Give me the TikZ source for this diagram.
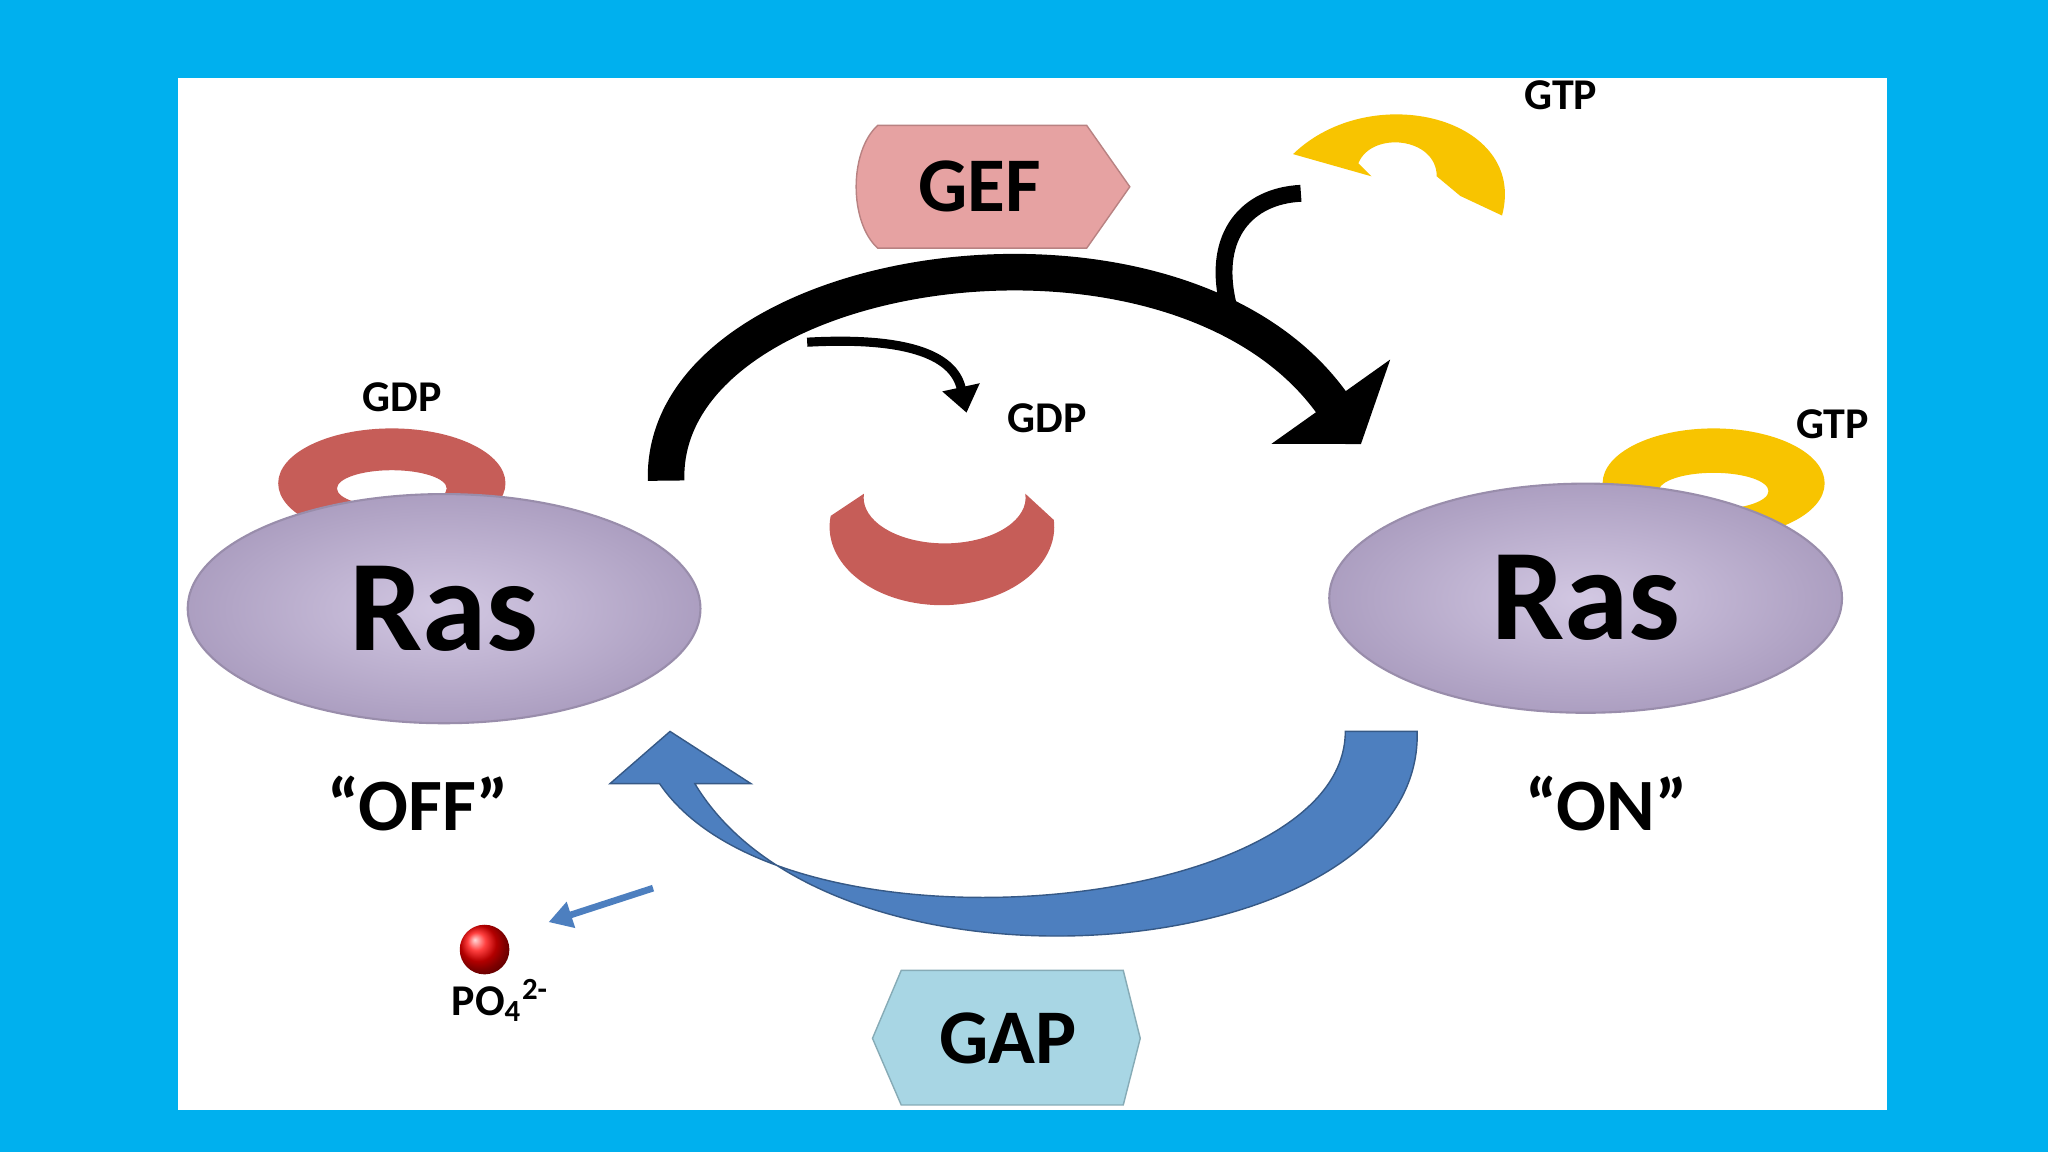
\documentclass[tikz,border=0pt]{standalone}
\usepackage{fontspec}
\setmainfont{Carlito}
\usetikzlibrary{arrows.meta,shapes.geometric}
\definecolor{sky}{HTML}{00B0EE}
\definecolor{rasp}{HTML}{BFB0D6}
\definecolor{gdpr}{HTML}{C65D58}
\definecolor{gtpy}{HTML}{F8C400}
\definecolor{gefp}{HTML}{E6A2A2}
\definecolor{gapb}{HTML}{A8D6E4}
\definecolor{blu}{HTML}{4D7FBF}
\tikzset{
  ras/.style={ellipse, draw=rasp!80!black, line width=0.6pt, inner color=rasp!70!white, outer color=rasp!90!black, minimum width=145.9pt, minimum height=65.2pt, font=\bfseries\fontsize{37}{40}\selectfont},
  lbl/.style={font=\bfseries\fontsize{12.5}{14}\selectfont},
  big/.style={font=\bfseries\fontsize{22}{24}\selectfont},
  state/.style={font=\bfseries\fontsize{21}{24}\selectfont},
}
\begin{document}
\begin{tikzpicture}[x=0.013061cm,y=-0.013061cm]
\useasboundingbox (0,0) rectangle (1568,882);
\fill[sky] (0,0) rectangle (1568,882);
\fill[white] (136,60) rectangle (1445,850);
% rings behind Ras
\fill[gdpr, even odd rule] (300,370) ellipse [x radius=87, y radius=42] (300,374) ellipse [x radius=42, y radius=14];
\fill[gtpy, even odd rule] (1312,370) ellipse [x radius=85, y radius=42] (1312,376) ellipse [x radius=42, y radius=14];
% Ras nodes
\node[ras] (rl) at (340,466) {Ras};
\node[ras] (rr) at (1214,458) {Ras};
% free GDP horseshoe
\fill[gdpr] (636,395) arc[start angle=188, end angle=-5, x radius=86, y radius=60] -- (785,378) arc[start angle=-5, end angle=185, x radius=62, y radius=35] -- cycle;
% free GTP horseshoe
\fill[gtpy] (990,118) .. controls (1050,60) and (1170,90) .. (1150,165) -- (1118,150) -- (1100,135) .. controls (1100,105) and (1050,100) .. (1040,125) -- (1050,135) -- cycle;
% GEF
\fill[gefp, draw=gefp!80!black, line width=0.4pt] (672,96) -- (832,96) -- (865,143) -- (832,190) -- (672,190) .. controls (650,170) and (650,116) .. cycle;
\node[big] (gef) at (750,143) {GEF};
% GAP
\fill[gapb, draw=gapb!80!black, line width=0.4pt] (690,743) -- (860,743) -- (873,795) -- (860,846) -- (690,846) -- (668,795) -- cycle;
\node[big] (gap) at (772,795) {GAP};
% black arrows
\coordinate (a0) at (510,368);
\coordinate (a1) at (1042,340);
\draw[line width=10.4pt, -{Triangle[width=40.7pt,length=14.8pt]}] (a0) .. controls (505,200) and (900,140) .. (a1);
\coordinate (b0) at (618,262);
\coordinate (b1) at (740,316);
\draw[line width=2.6pt, -{Triangle[width=10.4pt,length=7.4pt]}] (b0) .. controls (690,258) and (730,270) .. (b1);
\coordinate (c0) at (940,232);
\coordinate (c1) at (996,148);
\draw[line width=4.8pt] (c0) .. controls (928,180) and (955,150) .. (c1);
% blue arrow
\fill[blu, draw=blu!70!black, line width=0.4pt] (1030,560) -- (1085,560) .. controls (1090,740) and (640,780) .. (532,600) -- (575,600) -- (513,560) -- (467,600) -- (505,600) .. controls (600,740) and (1030,700) .. cycle;
% labels
\node[lbl] at (308,304) {GDP};
\node[lbl] at (802,320) {GDP};
\node[lbl] at (1195,73) {GTP};
\node[lbl] at (1403,325) {GTP};
\node[state] at (320,615) {“OFF”};
\node[state] at (1230,615) {“ON”};
% phosphate
\shade[ball color=red] (371,727) circle (19);
\node[lbl] (po) at (383,766) {PO\textsubscript{4}\textsuperscript{2-}};
\coordinate (p0) at (500,680);
\coordinate (p1) at (420,706);
\draw[blu, line width=1.9pt, -{Triangle[width=7.4pt,length=6.7pt]}] (p0) -- (p1);
\end{tikzpicture}
\end{document}
